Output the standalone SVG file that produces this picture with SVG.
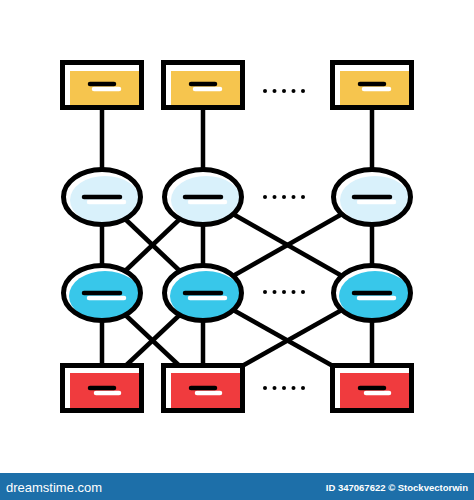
<svg xmlns="http://www.w3.org/2000/svg" width="474" height="500" viewBox="0 0 474 500">
<style>
.ln{stroke:#000;stroke-width:4.5;fill:none}
.box{fill:none;stroke:#000;stroke-width:5}
.ell{fill:none;stroke:#000;stroke-width:5}
.bk{stroke:#000;stroke-width:4.5;stroke-linecap:round}
.wh{stroke:#fff;stroke-width:4.5;stroke-linecap:round}
.dot{fill:#000}
.y{fill:#f6c54e}
.r{fill:#f03b3e}
.lb{fill:#d9f1fb}
.cy{fill:#38c7ea}
</style>
<rect width="474" height="500" fill="#fff"/>
<g id="connectors">
<line class="ln" x1="102" y1="108" x2="102" y2="390"/>
<line class="ln" x1="203" y1="108" x2="203" y2="390"/>
<line class="ln" x1="372" y1="108" x2="372" y2="390"/>
<line class="ln" x1="102" y1="197" x2="203" y2="293"/>
<line class="ln" x1="203" y1="197" x2="102" y2="293"/>
<line class="ln" x1="203" y1="197" x2="372" y2="293"/>
<line class="ln" x1="372" y1="197" x2="203" y2="293"/>
<line class="ln" x1="102" y1="293" x2="203" y2="388"/>
<line class="ln" x1="203" y1="293" x2="102" y2="388"/>
<line class="ln" x1="203" y1="293" x2="372" y2="388"/>
<line class="ln" x1="372" y1="293" x2="203" y2="388"/>
</g>
<g id="top1">
<rect x="62.5" y="62.5" width="79" height="45" fill="#fff"/>
<rect class="y" x="70" y="71" width="70" height="36"/>
<rect class="box" x="62.5" y="62.5" width="79" height="45"/>
<line class="wh" x1="94" y1="89" x2="119" y2="89"/>
<line class="bk" x1="90" y1="84" x2="114" y2="84"/>
</g>
<g id="top2">
<rect x="163.5" y="62.5" width="79" height="45" fill="#fff"/>
<rect class="y" x="171" y="71" width="70" height="36"/>
<rect class="box" x="163.5" y="62.5" width="79" height="45"/>
<line class="wh" x1="195" y1="89" x2="220" y2="89"/>
<line class="bk" x1="191" y1="84" x2="215" y2="84"/>
</g>
<g id="top3">
<rect x="332.5" y="62.5" width="79" height="45" fill="#fff"/>
<rect class="y" x="340" y="71" width="70" height="36"/>
<rect class="box" x="332.5" y="62.5" width="79" height="45"/>
<line class="wh" x1="364" y1="89" x2="389" y2="89"/>
<line class="bk" x1="360" y1="84" x2="384" y2="84"/>
</g>
<g id="hid1a">
<ellipse cx="102" cy="197" rx="38.5" ry="27.5" fill="#fff"/>
<ellipse class="lb" cx="105" cy="200" rx="35" ry="24"/>
<ellipse class="ell" cx="102" cy="197" rx="38.5" ry="27.5"/>
<line class="wh" x1="89" y1="202" x2="124" y2="202"/>
<line class="bk" x1="84" y1="197" x2="120" y2="197"/>
</g>
<g id="hid1b">
<ellipse cx="203" cy="197" rx="38.5" ry="27.5" fill="#fff"/>
<ellipse class="lb" cx="206" cy="200" rx="35" ry="24"/>
<ellipse class="ell" cx="203" cy="197" rx="38.5" ry="27.5"/>
<line class="wh" x1="190" y1="202" x2="225" y2="202"/>
<line class="bk" x1="185" y1="197" x2="221" y2="197"/>
</g>
<g id="hid1c">
<ellipse cx="372" cy="197" rx="38.5" ry="27.5" fill="#fff"/>
<ellipse class="lb" cx="375" cy="200" rx="35" ry="24"/>
<ellipse class="ell" cx="372" cy="197" rx="38.5" ry="27.5"/>
<line class="wh" x1="359" y1="202" x2="394" y2="202"/>
<line class="bk" x1="354" y1="197" x2="390" y2="197"/>
</g>
<g id="hid2a">
<ellipse cx="102" cy="293" rx="38.5" ry="27.5" fill="#fff"/>
<ellipse class="cy" cx="105" cy="296" rx="36" ry="25"/>
<ellipse class="ell" cx="102" cy="293" rx="38.5" ry="27.5"/>
<line class="wh" x1="89" y1="298" x2="124" y2="298"/>
<line class="bk" x1="84" y1="293" x2="120" y2="293"/>
</g>
<g id="hid2b">
<ellipse cx="203" cy="293" rx="38.5" ry="27.5" fill="#fff"/>
<ellipse class="cy" cx="206" cy="296" rx="36" ry="25"/>
<ellipse class="ell" cx="203" cy="293" rx="38.5" ry="27.5"/>
<line class="wh" x1="190" y1="298" x2="225" y2="298"/>
<line class="bk" x1="185" y1="293" x2="221" y2="293"/>
</g>
<g id="hid2c">
<ellipse cx="372" cy="293" rx="38.5" ry="27.5" fill="#fff"/>
<ellipse class="cy" cx="375" cy="296" rx="36" ry="25"/>
<ellipse class="ell" cx="372" cy="293" rx="38.5" ry="27.5"/>
<line class="wh" x1="359" y1="298" x2="394" y2="298"/>
<line class="bk" x1="354" y1="293" x2="390" y2="293"/>
</g>
<g id="bot1">
<rect x="62.5" y="365.5" width="79" height="45" fill="#fff"/>
<rect class="r" x="70" y="373" width="70" height="36"/>
<rect class="box" x="62.5" y="365.5" width="79" height="45"/>
<line class="wh" x1="96" y1="393" x2="119" y2="393"/>
<line class="bk" x1="90" y1="388" x2="114" y2="388"/>
</g>
<g id="bot2">
<rect x="163.5" y="365.5" width="79" height="45" fill="#fff"/>
<rect class="r" x="171" y="373" width="70" height="36"/>
<rect class="box" x="163.5" y="365.5" width="79" height="45"/>
<line class="wh" x1="197" y1="393" x2="220" y2="393"/>
<line class="bk" x1="191" y1="388" x2="215" y2="388"/>
</g>
<g id="bot3">
<rect x="332.5" y="365.5" width="79" height="45" fill="#fff"/>
<rect class="r" x="340" y="373" width="70" height="36"/>
<rect class="box" x="332.5" y="365.5" width="79" height="45"/>
<line class="wh" x1="366" y1="393" x2="389" y2="393"/>
<line class="bk" x1="360" y1="388" x2="384" y2="388"/>
</g>
<g id="ellipsis">
<g class="dot">
<circle cx="265" cy="91" r="2"/><circle cx="274.5" cy="91" r="2"/><circle cx="284" cy="91" r="2"/><circle cx="293.5" cy="91" r="2"/><circle cx="303" cy="91" r="2"/>
<circle cx="265" cy="197" r="2"/><circle cx="274.5" cy="197" r="2"/><circle cx="284" cy="197" r="2"/><circle cx="293.5" cy="197" r="2"/><circle cx="303" cy="197" r="2"/>
<circle cx="265" cy="292" r="2"/><circle cx="274.5" cy="292" r="2"/><circle cx="284" cy="292" r="2"/><circle cx="293.5" cy="292" r="2"/><circle cx="303" cy="292" r="2"/>
<circle cx="265" cy="388" r="2"/><circle cx="274.5" cy="388" r="2"/><circle cx="284" cy="388" r="2"/><circle cx="293.5" cy="388" r="2"/><circle cx="303" cy="388" r="2"/>
</g>
</g>
<g id="banner">
<rect x="0" y="473" width="474" height="27" fill="#1d6fa9"/>
<text x="6" y="492" font-family="'Liberation Sans', Arial, sans-serif" font-size="13" fill="#fff">dreamstime.com</text>
<text x="468" y="491" text-anchor="end" font-family="'Liberation Sans', Arial, sans-serif" font-size="9.5" font-weight="bold" fill="#fff">ID 347067622 © Stockvectorwin</text>
</g>
</svg>
